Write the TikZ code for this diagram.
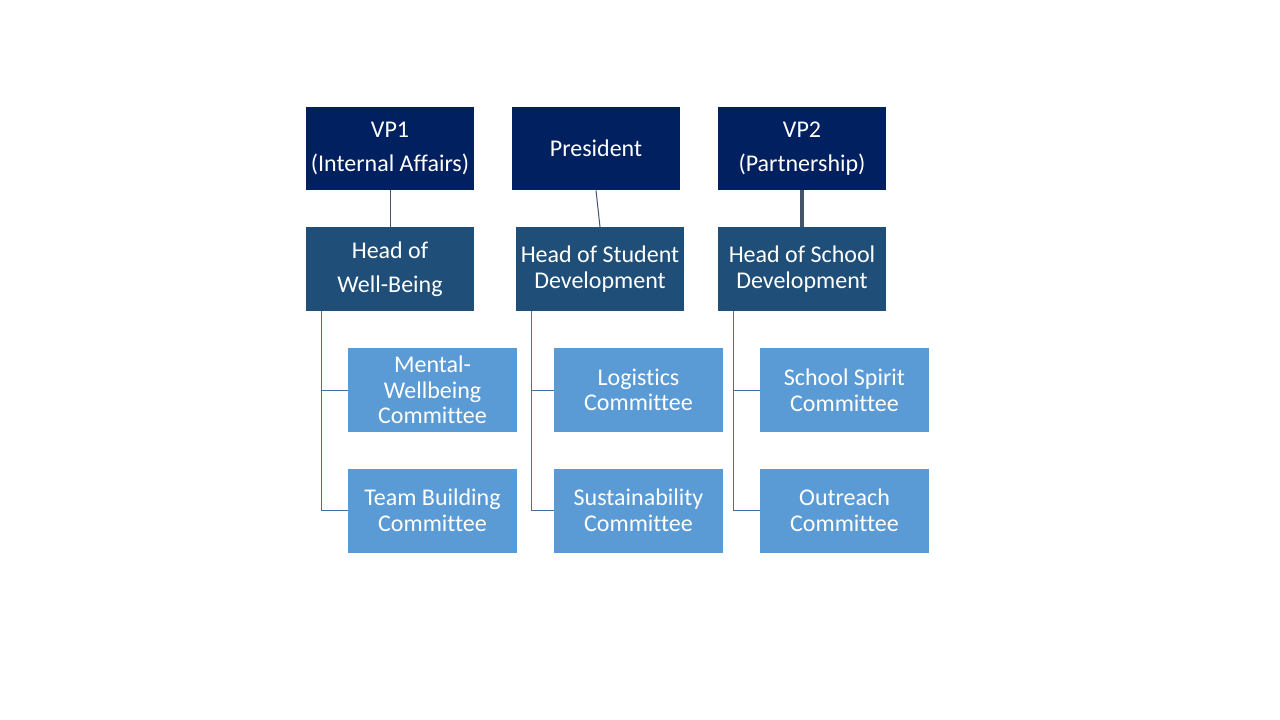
\documentclass[tikz,border=0pt]{standalone}
\usepackage{fontspec}
\setmainfont{Carlito}[Ligatures=NoCommon]
\usetikzlibrary{calc}
\definecolor{topc}{HTML}{002060}
\definecolor{headc}{HTML}{1F4E79}
\definecolor{comc}{HTML}{5B9BD5}
\definecolor{subline}{HTML}{41719C}
\definecolor{greyline}{HTML}{44546A}
\begin{document}
\begin{tikzpicture}[x=0.75pt,y=-0.75pt,
  box/.style={rectangle, inner sep=0pt, text=white, align=center,
    minimum width=126pt, minimum height=62.5pt},
  topbox/.style={box, fill=topc, font=\fontsize{18pt}{25.5pt}\selectfont},
  headbox/.style={box, fill=headc, font=\fontsize{18pt}{19.5pt}\selectfont},
  headwide/.style={box, fill=headc, font=\fontsize{18pt}{25.5pt}\selectfont},
  combox/.style={box, fill=comc, minimum width=126.75pt, minimum height=63pt, font=\fontsize{18pt}{19.2pt}\selectfont},
  sub/.style={draw=subline, line width=0.75pt},
  upline/.style={draw=greyline, line width=0.75pt},
  thickline/.style={draw=greyline, line width=3pt}]
\useasboundingbox[fill=white] (0,0) rectangle (1280,720);
% top row
\node[topbox] (vp1) at (390,148.5) {VP1\\(Internal Affairs)};
\node[topbox] (pres) at (596,148.5) {President};
\node[topbox] (vp2) at (802,148.5) {VP2\\(Partnership)};
% heads
\node[headwide] (hwb) at (390,269) {Head of\\Well-Being};
\node[headbox] (hsd) at (600,269) {Head of Student\\Development};
\node[headbox] (hscd) at (802,269) {Head of School\\Development};
% committees
\node[combox] (mw) at (432.5,390) {Mental-\\Wellbeing\\Committee};
\node[combox] (tb) at (432.5,510.5) {Team Building\\Committee};
\node[combox] (log) at (638.5,390) {Logistics\\Committee};
\node[combox] (sus) at (638.5,510.5) {Sustainability\\Committee};
\node[combox] (ss) at (844.5,390) {School Spirit\\Committee};
\node[combox] (out) at (844.5,510.5) {Outreach\\Committee};
% connectors top
\draw[upline] (vp1.south) -- (hwb.north);
\draw[upline] (pres.south) -- (hsd.north);
\draw[thickline] (vp2.south) -- (hscd.north);
% connectors to committees
\coordinate (a1) at ($(hwb.south west)+(16,0)$);
\coordinate (a2) at ($(hsd.south west)+(16,0)$);
\coordinate (a3) at ($(hscd.south west)+(16,0)$);
\draw[sub] (a1) |- (mw.west);
\draw[sub] (a1) |- (tb.west);
\draw[sub] (a2) |- (log.west);
\draw[sub] (a2) |- (sus.west);
\draw[sub] (a3) |- (ss.west);
\draw[sub] (a3) |- (out.west);
\end{tikzpicture}
\end{document}
